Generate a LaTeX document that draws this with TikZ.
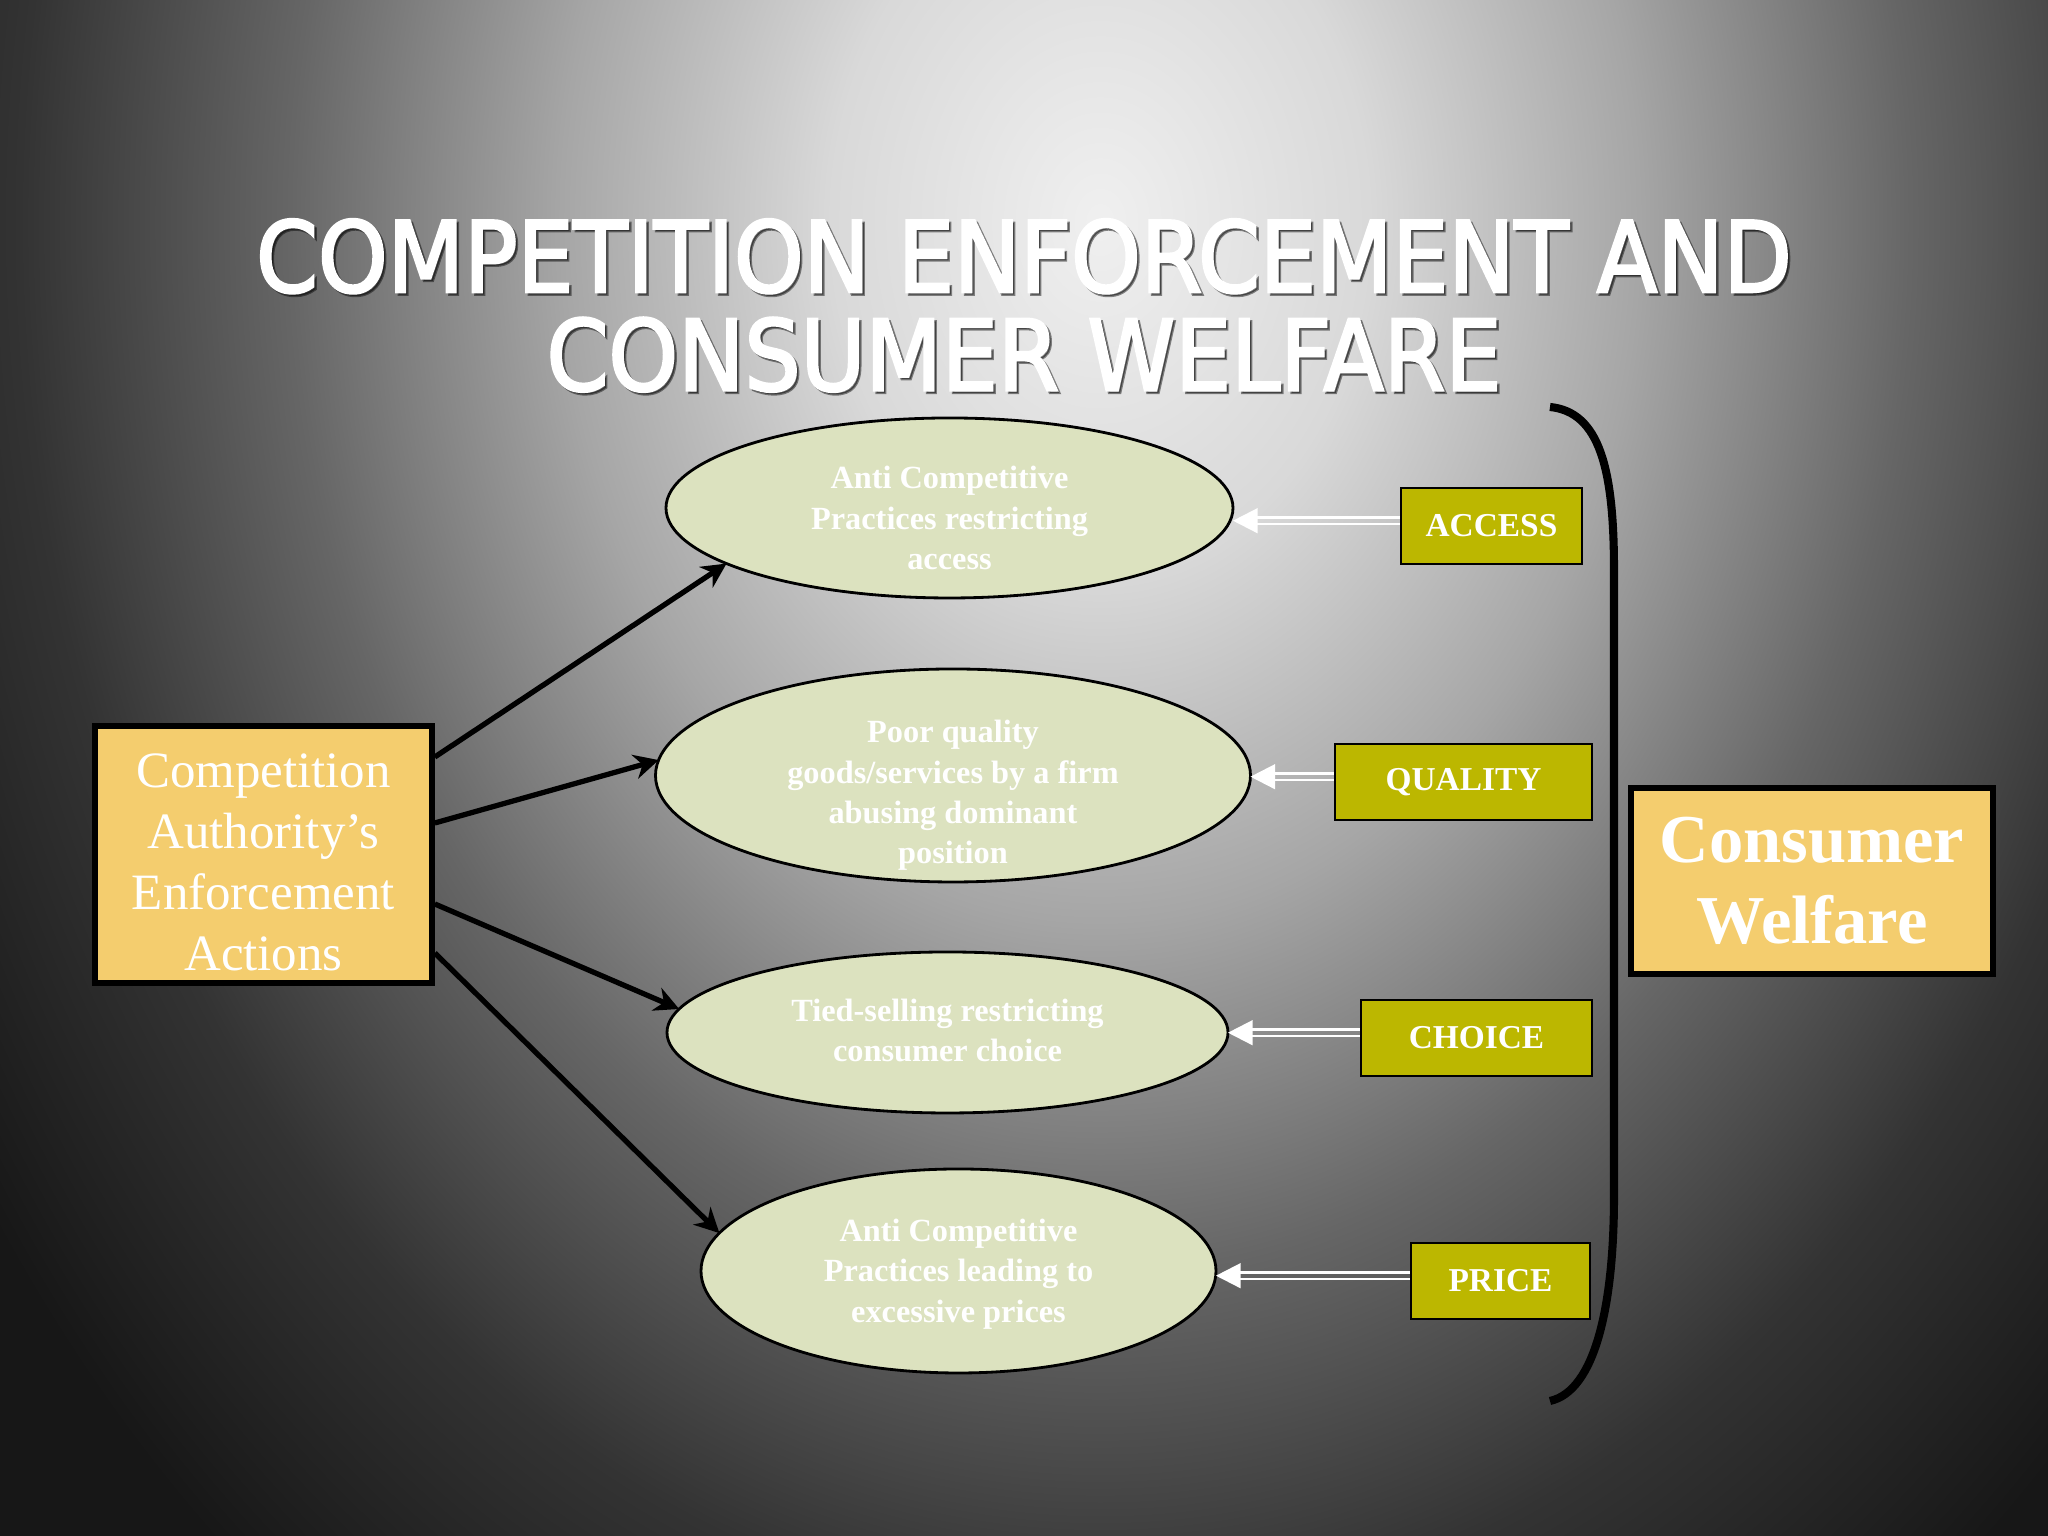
\documentclass[tikz,border=0pt]{standalone}
\usepackage{fontspec}
\setmainfont{Liberation Serif}
\newfontfamily\titlefont[FakeStretch=0.9,FakeBold=2.5]{DejaVu Sans}
\usetikzlibrary{arrows.meta,shapes.geometric}
\definecolor{boxgold}{HTML}{F4CD6E}
\definecolor{ovalgreen}{HTML}{DCE2BF}
\definecolor{tagolive}{HTML}{BCB700}
\pgfdeclareradialshading{slideglow}{\pgfpoint{0bp}{0bp}}{%
  color(0bp)=(white!94!black); color(5bp)=(white!85!black); color(10bp)=(white!65!black);
  color(15bp)=(white!40!black); color(20bp)=(white!20!black); color(25bp)=(white!9!black);
  color(50bp)=(white!9!black)}
\begin{document}
\begin{tikzpicture}[>=Stealth,
    action/.style={draw=black, line width=1.6pt, fill=boxgold, text=white, align=center, inner sep=0pt},
    abuse/.style={ellipse, draw=black, line width=0.8pt, fill=ovalgreen, inner sep=0pt, outer sep=0pt},
    abusetext/.style={text=white, align=center, inner sep=0pt, font=\fontsize{9.2}{11.5}\selectfont\bfseries},
    tag/.style={draw=black, line width=0.7pt, fill=tagolive, text=white, minimum height=0.76cm,
        inner sep=0pt, font=\fontsize{9.5}{11}\selectfont\bfseries},
    enforce/.style={->, line width=1.5pt, >={Stealth[length=7pt,width=7pt]}},
    pull/.style={white, line width=0.7pt}]

    % 背景
    \useasboundingbox (0,0) rectangle (20.48,15.36);
    \clip (0,0) rectangle (20.48,15.36);
    \fill[white!9!black] (0,0) rectangle (20.48,15.36);
    \shade[shading=slideglow] (11.0,13.14) ellipse (13.5 and 17.5);

    % 标题
    \node[text=black, opacity=0.45, align=center, font=\titlefont\fontsize{28}{28}\selectfont] (shadow) at (10.265,12.28)
        {COMPETITION ENFORCEMENT AND\\CONSUMER WELFARE};
    \node[text=white, align=center, font=\titlefont\fontsize{28}{28}\selectfont] (title) at (10.24,12.305)
        {COMPETITION ENFORCEMENT AND\\CONSUMER WELFARE};

    % 左侧方框
    \node[action, minimum width=3.37cm, minimum height=2.57cm] (cae) at (2.635,6.815) {};
    \node[text=white, align=center, inner sep=0pt, font=\fontsize{14.5}{17.4}\selectfont] (cae-t) at ([yshift=-0.08cm]cae)
        {Competition\\Authority’s\\Enforcement\\Actions};

    % 椭圆
    \node[abuse, minimum width=5.67cm, minimum height=1.80cm] (restrict) at (9.495,10.28) {};
    \node[abuse, minimum width=5.95cm, minimum height=2.13cm] (quality) at (9.53,7.605) {};
    \node[abuse, minimum width=5.61cm, minimum height=1.61cm] (tied) at (9.475,5.035) {};
    \node[abuse, minimum width=5.15cm, minimum height=2.04cm] (prices) at (9.585,2.65) {};
    \node[abusetext] (restrict-t) at ([yshift=-0.1cm]restrict) {Anti Competitive\\Practices restricting\\access};
    \node[abusetext] (quality-t) at ([yshift=-0.2cm]quality) {Poor quality\\goods/services by a firm\\abusing dominant\\position};
    \node[abusetext] (tied-t) at ([yshift=0.02cm]tied) {Tied-selling restricting\\consumer choice};
    \node[abusetext] (prices-t) at ([yshift=-0.03cm]prices) {Anti Competitive\\Practices leading to\\excessive prices};

    % 标签
    \node[tag, minimum width=1.81cm] (access) at (14.915,10.10) {ACCESS};
    \node[tag, minimum width=2.57cm] (qualitytag) at (14.635,7.54) {QUALITY};
    \node[tag, minimum width=2.31cm] (choice) at (14.765,4.98) {CHOICE};
    \node[tag, minimum width=1.79cm] (price) at (15.005,2.55) {PRICE};

    \node[action, minimum width=3.62cm, minimum height=1.86cm, font=\fontsize{19.5}{23}\selectfont\bfseries] (welfare) at (18.12,6.55)
        {Consumer\\Welfare};

    % 箭头
    \draw[enforce] ([yshift=0.975cm]cae.east) -- (restrict.194);
    \draw[enforce] ([yshift=0.315cm]cae.east) -- (quality.177);
    \draw[enforce] ([yshift=-0.495cm]cae.east) -- (tied.175);
    \draw[enforce] ([yshift=-0.985cm]cae.east) -- (prices.171);

    \foreach \t/\e in {access/restrict, qualitytag/quality, choice/tied, price/prices}{
        \coordinate (tip) at ([yshift=1.5pt]\t.west -| \e.east);
        \draw[pull] ([yshift=2.4pt]\t.west) -- ([yshift=0.9pt,xshift=5pt]tip);
        \draw[pull] ([yshift=0.6pt]\t.west) -- ([yshift=-0.9pt,xshift=5pt]tip);
        \fill[white] (tip) -- ++(7pt,3.6pt) -- ++(0,-7.2pt) -- cycle;
    }

    % 括号
    \draw[line width=2.3pt] (15.50,11.29) .. controls (16.0,11.24) and (16.14,10.66) .. (16.14,9.66)
        -- (16.14,3.4) .. controls (16.14,2.3) and (15.95,1.45) .. (15.50,1.35);

\end{tikzpicture}
\end{document}
